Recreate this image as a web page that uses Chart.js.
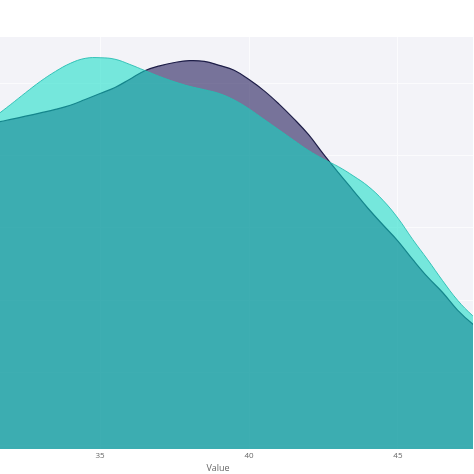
<!DOCTYPE html>
<html>
<head>
<meta charset="utf-8">
<script src="https://cdn.jsdelivr.net/npm/chart.js@4"></script>
<style>
html,body{margin:0;padding:0;background:#fff;}
#wrap{width:474px;height:474px;position:relative;}
</style>
</head>
<body>
<div id="wrap"><canvas id="c"></canvas></div>
<script>
// x positions (Value)
const xValues = [31.5,32,32.5,33,33.5,34,34.5,35,35.5,36,36.5,37,37.5,38,38.5,39,39.5,40,40.5,41,41.5,42,42.5,43,43.5,44,44.5,45,45.5,46,46.5,47,47.5,48];
// density of the turquoise series
const seriesA = [4.546,4.704,4.867,5.024,5.160,5.272,5.341,5.350,5.329,5.257,5.173,5.090,5.017,4.955,4.908,4.855,4.766,4.643,4.499,4.355,4.210,4.068,3.949,3.845,3.718,3.574,3.380,3.134,2.837,2.559,2.270,2.001,1.790,1.618];
// density of the navy series
const seriesB = [4.454,4.498,4.542,4.588,4.636,4.693,4.773,4.856,4.939,5.053,5.170,5.237,5.284,5.310,5.300,5.245,5.177,5.048,4.895,4.712,4.508,4.286,4.018,3.763,3.515,3.267,3.039,2.817,2.560,2.318,2.107,1.863,1.675,1.535];
const xTicks = [35,40,45];
const yGrid = [0,1,2,3,4,5];
const xTitle = 'Value';

const toPts = (ys) => xValues.map((x,i)=>({x:x,y:ys[i]}));

const bgPlugin = {
  id:'bg',
  beforeDraw(chart){
    const {ctx, chartArea:a} = chart;
    ctx.save();
    ctx.fillStyle = '#f3f3f8';
    ctx.fillRect(a.left, a.top, a.right-a.left, a.bottom-a.top);
    ctx.restore();
  },
  afterDraw(chart){
    const ctx = chart.ctx;
    const xs = chart.scales.x;
    ctx.save();
    ctx.font = '9px "Open Sans", sans-serif';
    ctx.fillStyle = '#666';
    ctx.textAlign = 'center';
    ctx.textBaseline = 'middle';
    ctx.fillText(xTitle, xs.getPixelForValue(38.96), 468);
    ctx.restore();
  }
};

new Chart(document.getElementById('c'), {
  type:'line',
  data:{
    datasets:[
      {
        label:'A',
        data:toPts(seriesA),
        fill:'start',
        backgroundColor:'rgba(13,220,196,0.55)',
        borderColor:'rgba(40,190,178,0.9)',
        borderWidth:1,
        pointRadius:0,
        tension:0.4,
        order:0
      },
      {
        label:'B',
        data:toPts(seriesB),
        fill:'start',
        backgroundColor:'rgba(36,30,91,0.6)',
        borderColor:'#1e1e48',
        borderWidth:1.2,
        pointRadius:0,
        tension:0.4,
        order:1
      }
    ]
  },
  options:{
    responsive:true,
    maintainAspectRatio:false,
    animation:false,
    layout:{padding:{top:37,right:1,left:0,bottom:0}},
    plugins:{legend:{display:false},tooltip:{enabled:false}},
    scales:{
      x:{
        type:'linear',
        min:31.64,
        max:47.52,
        afterBuildTicks(s){ s.ticks = xTicks.map(v=>({value:v})); },
        afterFit(s){ s.height = 25; },
        grid:{color:'#fbfbfd',lineWidth:1,drawTicks:false},
        border:{display:false},
        ticks:{padding:2,color:'#666',font:{size:8,family:'"Open Sans", sans-serif'}}
      },
      y:{
        min:-0.055,
        max:5.636,
        afterBuildTicks(s){ s.ticks = yGrid.map(v=>({value:v})); },
        afterFit(s){ s.width = 0; },
        grid:{color:'#fbfbfd',lineWidth:1,drawTicks:false},
        border:{display:false},
        ticks:{display:false}
      }
    }
  },
  plugins:[bgPlugin]
});
</script>
</body>
</html>
